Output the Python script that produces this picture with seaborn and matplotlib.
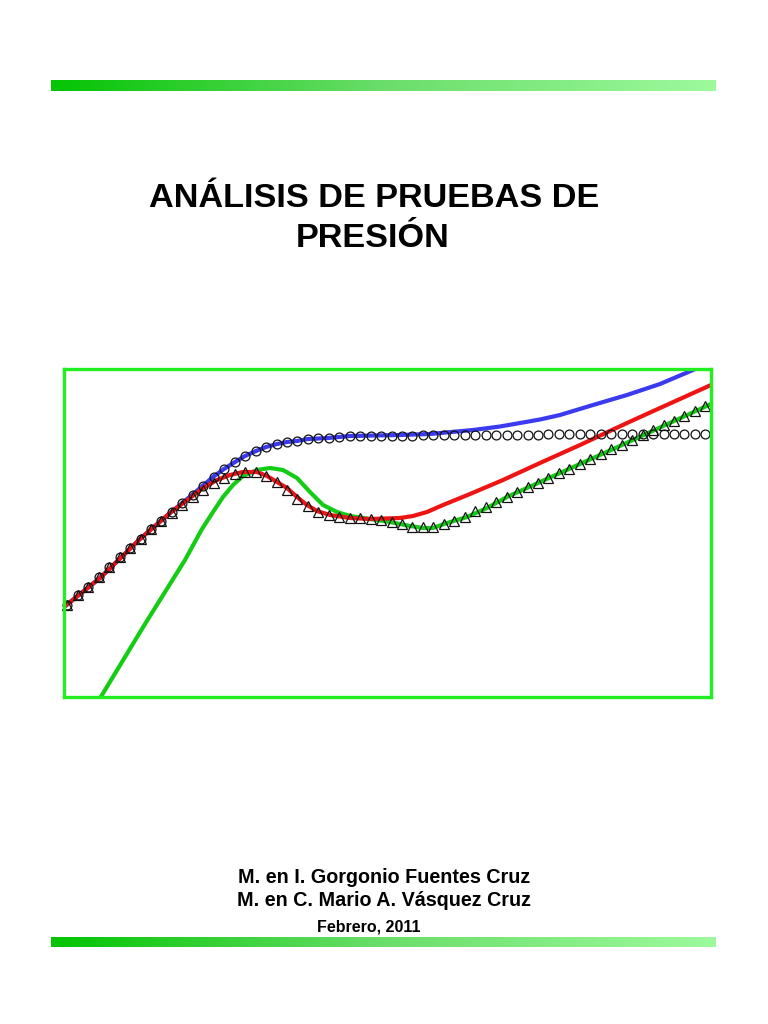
import numpy as np
import pandas as pd
import matplotlib
matplotlib.use("Agg")
import matplotlib.pyplot as plt
from matplotlib.colors import LinearSegmentedColormap
import seaborn as sns

# ---------------- data (arbitrary chart units) ----------------
title_lines = ["ANÁLISIS DE PRUEBAS DE", "PRESIÓN"]
authors = ["M. en I. Gorgonio Fuentes Cruz", "M. en C. Mario A. Vásquez Cruz"]
date_text = "Febrero, 2011"

# sample times (uniform in log time)
marker_x = np.round(0.33 + 1.046 * np.arange(62), 3)

circle_y = [9.2, 10.2, 11.0, 12.0, 13.0, 14.0, 14.9, 15.8, 16.8, 17.6,
            18.5, 19.4, 20.2, 21.1, 22.0, 22.8, 23.5, 24.1, 24.6, 25.0,
            25.3, 25.5, 25.6, 25.8, 25.9, 25.9, 26.0, 26.1, 26.1, 26.1,
            26.1, 26.1, 26.1, 26.1, 26.2, 26.2, 26.2, 26.2, 26.2, 26.2,
            26.2, 26.2, 26.2, 26.2, 26.2, 26.2, 26.3, 26.3, 26.3, 26.3,
            26.3, 26.3, 26.3, 26.3, 26.3, 26.3, 26.3, 26.3, 26.3, 26.3,
            26.3, 26.3]

triangle_y = [9.2, 10.2, 11.0, 12.0, 13.0, 14.0, 14.9, 15.8, 16.8, 17.6,
              18.4, 19.2, 20.0, 20.7, 21.4, 21.9, 22.3, 22.5, 22.5, 22.1,
              21.5, 20.7, 19.8, 19.1, 18.5, 18.2, 18.0, 17.9, 17.9, 17.8,
              17.7, 17.5, 17.3, 17.0, 17.0, 17.0, 17.3, 17.6, 18.0, 18.6,
              19.0, 19.5, 20.0, 20.5, 21.0, 21.4, 21.9, 22.4, 22.8, 23.3,
              23.8, 24.3, 24.8, 25.2, 25.7, 26.2, 26.7, 27.2, 27.6, 28.1,
              28.6, 29.1]

blue_x = [0, 3.6, 7.6, 10.6, 12.8, 14.9, 16.0, 17.1, 18.1, 19.2, 20.2, 21.3,
          22.3, 23.3, 24.4, 26.4, 28.6, 33.6, 36.6, 40.9, 43.6, 45.6, 47.6,
          49.6, 52.9, 56.3, 59.6, 62.9, 63.6]
blue_y = [9.0, 11.9, 15.8, 18.4, 20.2, 22.0, 22.8, 23.5, 24.1, 24.6, 25.0,
          25.3, 25.5, 25.6, 25.8, 25.9, 26.1, 26.2, 26.3, 26.7, 27.05, 27.4,
          27.75, 28.2, 29.2, 30.2, 31.3, 32.7, 33.0]

red_x = [0, 3.6, 7.6, 10.6, 12.6, 13.9, 15.3, 16.6, 17.9, 19.3, 20.3, 21.3,
         22.3, 23.3, 24.3, 25.3, 26.6, 28.6, 30.6, 33.6, 34.9, 36.3, 37.9,
         40.6, 43.9, 47.6, 51.6, 56.3, 59.6, 64.7]
red_y = [9.0, 11.9, 15.8, 18.4, 19.9, 20.9, 21.7, 22.2, 22.5, 22.5, 22.1,
         21.5, 20.9, 20.0, 19.2, 18.6, 18.2, 17.9, 17.8, 17.9, 18.1, 18.5,
         19.2, 20.3, 21.7, 23.4, 25.2, 27.4, 28.9, 31.2]

green_x = [3.2, 3.8, 8.1, 12.1, 13.8, 14.9, 15.9, 16.9, 17.9, 19.3, 20.6,
           21.9, 23.3, 24.6, 25.9, 27.3, 28.6, 30.6, 32.6, 34.6, 35.9, 36.9,
           38.3, 40.3, 42.3, 44.3, 49.6, 55.8, 62.1, 64.7]
green_y = [-0.8, 0.2, 7.3, 13.7, 16.8, 18.5, 20.0, 21.2, 22.1, 22.7, 22.9,
           22.7, 21.9, 20.5, 19.2, 18.5, 18.1, 17.8, 17.5, 17.1, 16.9, 16.9,
           17.4, 18.0, 18.9, 20.0, 22.4, 25.2, 28.1, 29.3]

# ---------------- styling ----------------
sns.set_theme(style="white")
plt.rcParams["font.family"] = ["Liberation Sans", "DejaVu Sans"]

W, H = 768, 1024
fig = plt.figure(figsize=(W / 100, H / 100), dpi=100)
fig.patch.set_facecolor("white")

def fx(px):
    return px / W

def fy(py):
    return 1 - py / H

# gradient bars
cmap = LinearSegmentedColormap.from_list(
    "bar", [(0.0, "#04c404"), (0.5, "#6ade6a"), (1.0, "#9cfa9c")])
grad = np.linspace(0, 1, 256).reshape(1, -1)
for top, bot in [(80, 91), (937, 947)]:
    bax = fig.add_axes([fx(51), fy(bot), fx(716) - fx(51), fy(top) - fy(bot)])
    bax.imshow(grad, aspect="auto", cmap=cmap)
    bax.set_axis_off()

# main plot
ax = fig.add_axes([fx(64), fy(697), fx(711) - fx(64), fy(369) - fy(697)])
ax.set_facecolor("white")

lw = 3.0
line_kw = dict(lw=lw, sort=False, solid_joinstyle="round", solid_capstyle="round")
sns.lineplot(x=green_x, y=green_y, ax=ax, color="#14cc14", **line_kw)
sns.lineplot(x=blue_x, y=blue_y, ax=ax, color="#3a3aee", **line_kw)
sns.lineplot(x=red_x, y=red_y, ax=ax, color="#ee1414", **line_kw)

df = pd.DataFrame({"t": marker_x, "circ": circle_y, "tri": triangle_y})
sns.lineplot(data=df, x="t", y="circ", ax=ax, ls="", marker="o",
             markersize=6.4, markerfacecolor="none", markeredgecolor="#111111",
             markeredgewidth=0.9, clip_on=False)
sns.lineplot(data=df, x="t", y="tri", ax=ax, ls="", marker="^",
             markersize=6.8, markerfacecolor="none", markeredgecolor="#111111",
             markeredgewidth=0.9, clip_on=False)

ax.set_xlim(0, 64.7)
ax.set_ylim(0, 32.8)
ax.set_xticks([])
ax.set_yticks([])
ax.set_xlabel("")
ax.set_ylabel("")
for sp in ax.spines.values():
    sp.set_color("#22ee22")
    sp.set_linewidth(2.4)
    sp.set_visible(True)
    sp.set_zorder(5)

# texts
fig.text(fx(374), fy(207), title_lines[0], ha="center", va="baseline",
         fontsize=24.7, fontweight="bold", color="black")
fig.text(fx(373), fy(247), title_lines[1], ha="center", va="baseline",
         fontsize=24.7, fontweight="bold", color="black")
fig.text(fx(384), fy(883), authors[0], ha="center", va="baseline",
         fontsize=14.2, fontweight="bold", color="black")
fig.text(fx(384), fy(906), authors[1], ha="center", va="baseline",
         fontsize=14.2, fontweight="bold", color="black")
fig.text(fx(369), fy(932), date_text, ha="center", va="baseline",
         fontsize=11.5, fontweight="bold", color="black")

fig.savefig("out.png", dpi=100, facecolor="white")
